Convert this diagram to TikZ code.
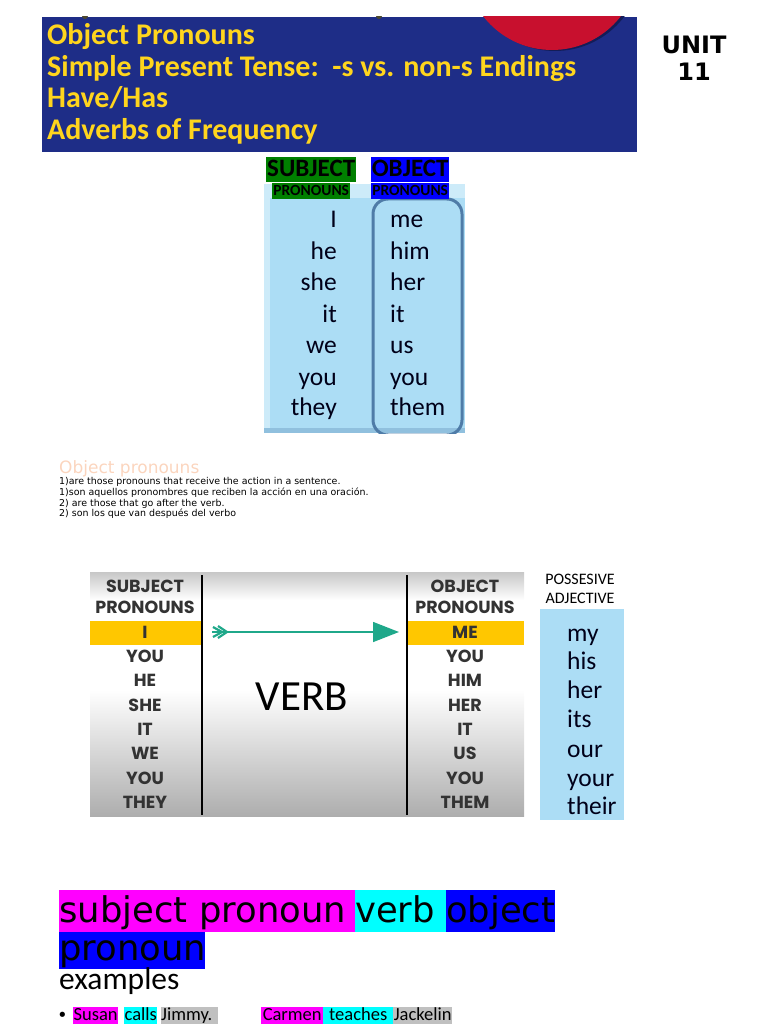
\documentclass[tikz,border=0pt]{standalone}
\usepackage{fontspec}
\setmainfont{Carlito}
\newfontfamily\dejavu{DejaVu Sans}
\newfontfamily\chalk{Poppins}
\usetikzlibrary{arrows.meta}
\definecolor{bannerblue}{HTML}{1E2D87}
\definecolor{banneryellow}{HTML}{FFD51D}
\definecolor{ballred}{HTML}{C8102E}
\definecolor{panelblue}{HTML}{ACDDF5}
\definecolor{ringblue}{HTML}{4F7CA8}
\definecolor{rowyellow}{HTML}{FFC700}
\definecolor{arrowgreen}{HTML}{1FA88A}
\definecolor{titlepeach}{HTML}{FBD5BE}
\definecolor{hlgreen}{HTML}{007F00}
\definecolor{hlgrey}{HTML}{C0C0C0}
\definecolor{hlpink}{HTML}{FF00FF}
\definecolor{hlcyan}{HTML}{00FFFF}
\definecolor{hlblue}{HTML}{0000FF}
\tikzset{
  bannerline/.style={anchor=base west,inner sep=0,text=banneryellow,font=\fontsize{30}{30}\selectfont\bfseries},
  unitline/.style={inner sep=0,font=\dejavu\fontsize{24}{24}\selectfont\bfseries},
  headbig/.style={anchor=north west,inner sep=0,text height=19pt,text depth=6pt,font=\fontsize{25}{25}\selectfont\bfseries},
  headsmall/.style={anchor=north west,inner sep=0,text height=12pt,text depth=4pt,font=\fontsize{15.5}{15.5}\selectfont\bfseries},
  rowright/.style={anchor=base east,inner sep=0,text=black!90!blue,font=\fontsize{25.5}{25.5}\selectfont},
  rowleft/.style={anchor=base west,inner sep=0,text=black!90!blue,font=\fontsize{25.5}{25.5}\selectfont},
  noteline/.style={anchor=base west,inner sep=0,font=\dejavu\fontsize{9.45}{9.45}\selectfont},
  chalkrow/.style={inner sep=0,text=black!80,font=\chalk\fontsize{17.5}{17.5}\selectfont\bfseries},
  adjline/.style={inner sep=0,font=\fontsize{16}{16}\selectfont},
  bighl/.style={anchor=north west,inner sep=0,align=left,text height=32pt,text depth=10pt,font=\dejavu\fontsize{35.4}{35.4}\selectfont},
  smallhl/.style={anchor=north west,inner sep=0,text height=13pt,text depth=4pt,font=\fontsize{18.5}{18.5}\selectfont},
}
\begin{document}
\begin{tikzpicture}[x=1pt,y=-1pt]
    \useasboundingbox (0,0) rectangle (768,1024);
    % banner
    \fill[bannerblue] (42,17) rectangle (637,152);
    \begin{scope}
        \clip (42,17) rectangle (637,152);
        \fill[black!35!bannerblue] (555,-36) circle (87);
        \fill[ballred] (552,-37) circle (87);
        \fill[black!60!olive] (85,16) circle (3);
        \fill[black!60!olive] (379,16) circle (3);
    \end{scope}
    \node[bannerline] (line1) at (47,45) {Object Pronouns};
    \node[bannerline] (line2) at (47,77) {Simple Present Tense:\ \ -s vs. non-s Endings};
    \node[bannerline] (line3) at (47,108) {Have/Has};
    \node[bannerline] (line4) at (47,140) {Adverbs of Frequency};
    \node[unitline] (unit) at (694,45) {UNIT};
    \node[unitline] (eleven) at (694,72) {11};
    % first table
    \fill[panelblue!60!white] (264,184) rectangle (465,433);
    \fill[panelblue] (270,198) rectangle (465,428);
    \fill[panelblue!70!ringblue] (264,428) rectangle (465,433);
    \begin{scope}
        \clip (264,184) rectangle (465,433);
        \draw[ringblue,line width=3pt,rounded corners=15pt] (373,199) rectangle (462,435);
    \end{scope}
    \node[headbig,fill=hlgreen,minimum width=90pt] (subj) at (266,157) {SUBJECT};
    \node[headbig,fill=hlblue,minimum width=78pt] (obj) at (371,157) {OBJECT};
    \node[headsmall,fill=hlgreen,minimum width=78pt] (subjp) at (272,183) {PRONOUNS};
    \node[headsmall,fill=hlblue,minimum width=78pt] (objp) at (371,183) {PRONOUNS};
    \node[rowright] (s1) at (337,227) {I};
    \node[rowright] (s2) at (337,259) {he};
    \node[rowright] (s3) at (337,290) {she};
    \node[rowright] (s4) at (337,322) {it};
    \node[rowright] (s5) at (337,353) {we};
    \node[rowright] (s6) at (337,385) {you};
    \node[rowright] (s7) at (337,415) {they};
    \node[rowleft] (o1) at (390,227) {me};
    \node[rowleft] (o2) at (390,259) {him};
    \node[rowleft] (o3) at (390,290) {her};
    \node[rowleft] (o4) at (390,322) {it};
    \node[rowleft] (o5) at (390,353) {us};
    \node[rowleft] (o6) at (390,385) {you};
    \node[rowleft] (o7) at (390,415) {them};
    % notes
    \node[anchor=base west,inner sep=0,text=titlepeach,font=\dejavu\fontsize{17}{17}\selectfont] (notetitle) at (59,473) {Object pronouns};
    \node[noteline] (note1) at (59,484.5) {1)are those pronouns that receive the action in a sentence.};
    \node[noteline] (note2) at (59,495) {1)son aquellos pronombres que reciben la acción en una oración.};
    \node[noteline] (note3) at (59,506) {2) are those that go after the verb.};
    \node[noteline] (note4) at (59,516) {2) son los que van después del verbo};
    % second table
    \shade[top color=black!22,bottom color=white] (90,572) rectangle (524,600);
    \shade[top color=white,bottom color=black!32] (90,690) rectangle (524,816);
    \fill[rowyellow] (90,621) rectangle (201,645);
    \fill[rowyellow] (408,621) rectangle (524,645);
    \draw[line width=1.3pt] (202,575) -- (202,815);
    \draw[line width=1.3pt] (407,575) -- (407,815);
    \node[chalkrow] (sh1) at (145,586.5) {SUBJECT};
    \node[chalkrow] (sh2) at (145,607.5) {PRONOUNS};
    \node[chalkrow] (sr1) at (145,632.5) {I};
    \node[chalkrow] (sr2) at (145,656.5) {YOU};
    \node[chalkrow] (sr3) at (145,680.5) {HE};
    \node[chalkrow] (sr4) at (145,705.5) {SHE};
    \node[chalkrow] (sr5) at (145,729.5) {IT};
    \node[chalkrow] (sr6) at (145,753.5) {WE};
    \node[chalkrow] (sr7) at (145,778.5) {YOU};
    \node[chalkrow] (sr8) at (145,802.5) {THEY};
    \node[chalkrow] (oh1) at (465,586.5) {OBJECT};
    \node[chalkrow] (oh2) at (465,607.5) {PRONOUNS};
    \node[chalkrow] (or1) at (465,632.5) {ME};
    \node[chalkrow] (or2) at (465,656.5) {YOU};
    \node[chalkrow] (or3) at (465,680.5) {HIM};
    \node[chalkrow] (or4) at (465,705.5) {HER};
    \node[chalkrow] (or5) at (465,729.5) {IT};
    \node[chalkrow] (or6) at (465,753.5) {US};
    \node[chalkrow] (or7) at (465,778.5) {YOU};
    \node[chalkrow] (or8) at (465,802.5) {THEM};
    \node[inner sep=0,font=\fontsize{43}{43}\selectfont] (verb) at (302,697) {VERB};
    \coordinate (tail) at (221,632);
    \coordinate (head) at (399,632);
    \draw[-{Triangle[length=26pt,width=20pt]},arrowgreen,line width=1.5pt] (tail) -- (head);
    \draw[arrowgreen,line width=2.2pt] (213,627) -- (222,632) -- (213,637);
    \draw[arrowgreen,line width=2.2pt] (218,626) -- (227,632) -- (218,638);
    \draw[arrowgreen,line width=2.2pt] (212,632) -- (222,632);
    % possessive column
    \node[adjline] (poss) at (580,579) {POSSESIVE};
    \node[adjline] (adj) at (580,598) {ADJECTIVE};
    \fill[panelblue] (540,609) rectangle (624,820);
    \node[rowleft] (p1) at (567,641) {my};
    \node[rowleft] (p2) at (567,669) {his};
    \node[rowleft] (p3) at (567,698) {her};
    \node[rowleft] (p4) at (567,727) {its};
    \node[rowleft] (p5) at (567,757) {our};
    \node[rowleft] (p6) at (567,786) {your};
    \node[rowleft] (p7) at (567,814) {their};
    % formula
    \node[bighl,fill=hlpink,text width=296pt] (hlsubj) at (59,890) {subject pronoun};
    \node[bighl,fill=hlcyan,text width=91pt] (hlverb) at (355,890) {verb};
    \node[bighl,fill=hlblue,text width=109pt] (hlobj) at (446,890) {object};
    \node[bighl,fill=hlblue,text width=146pt,text height=28pt,text depth=9pt] (hlpron) at (59,932) {pronoun};
    \node[anchor=base west,inner sep=0,text height=19pt,font=\fontsize{31.5}{31.5}\selectfont] (examples) at (59,989) {examples};
    \node[anchor=base west,inner sep=0,font=\dejavu\fontsize{18}{18}\selectfont] (bullet) at (57,1021) {•};
    \node[smallhl,fill=hlpink,minimum width=45pt] (susan) at (73,1007) {Susan};
    \node[smallhl,fill=hlcyan,minimum width=33pt] (calls) at (124,1007) {calls};
    \node[smallhl,fill=hlgrey,minimum width=57pt,text width=57pt,align=left] (jimmy) at (161,1007) {Jimmy.};
    \node[smallhl,fill=hlpink,minimum width=62pt] (carmen) at (261,1007) {Carmen};
    \node[smallhl,fill=hlcyan,minimum width=70pt] (teaches) at (323,1007) {teaches};
    \node[smallhl,fill=hlgrey,minimum width=59pt] (jackelin) at (393,1007) {Jackelin};
\end{tikzpicture}
\end{document}
